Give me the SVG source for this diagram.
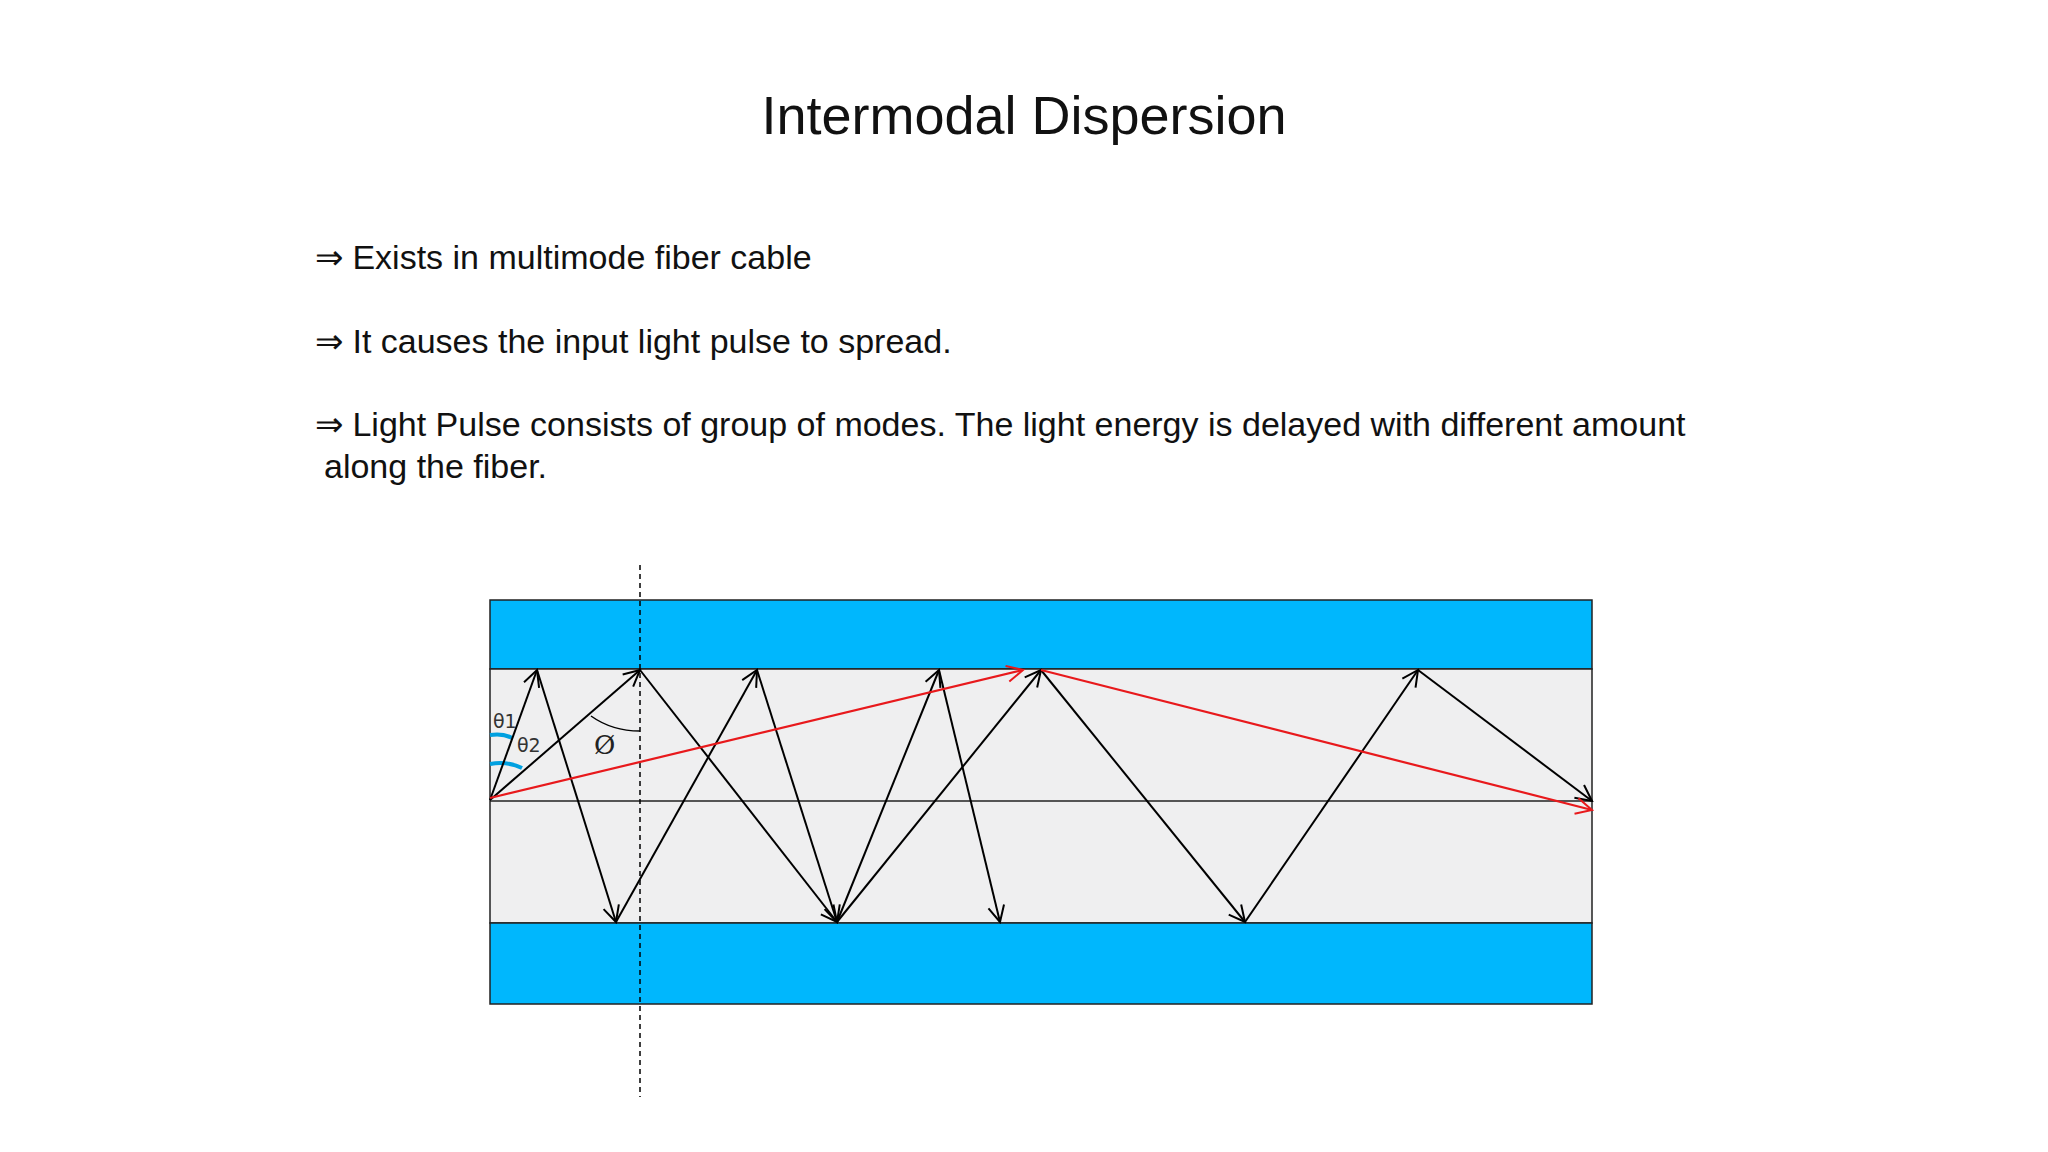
<svg xmlns="http://www.w3.org/2000/svg" width="2048" height="1152" viewBox="0 0 2048 1152">
<style>
.t{font-family:"Liberation Sans",Arial,sans-serif;fill:#111}
.b{font-size:34px}
.r{stroke:#000;stroke-width:2;fill:none;marker-end:url(#ah)}
.rr{stroke:#e8191c;stroke-width:2.2;fill:none;marker-end:url(#ahr)}
</style>
<defs>
<marker id="ah" viewBox="0 0 20 20" refX="18" refY="10" markerWidth="20" markerHeight="20" markerUnits="userSpaceOnUse" orient="auto"><path d="M2,2 L18,10 L2,18" fill="none" stroke="#000" stroke-width="2"/></marker>
<marker id="ahr" viewBox="0 0 20 20" refX="18" refY="10" markerWidth="20" markerHeight="20" markerUnits="userSpaceOnUse" orient="auto"><path d="M2,2 L18,10 L2,18" fill="none" stroke="#e8191c" stroke-width="2"/></marker>
</defs>
<rect width="2048" height="1152" fill="#fff"/>
<text class="t" x="1024" y="134" font-size="54" text-anchor="middle">Intermodal Dispersion</text>
<g id="bullets">
<text class="t b" x="315" y="269">⇒ Exists in multimode fiber cable</text>
<text class="t b" x="315" y="353">⇒ It causes the input light pulse to spread.</text>
<text class="t b" x="315" y="436">⇒ Light Pulse consists of group of modes. The light energy is delayed with different amount</text>
<text class="t b" x="324" y="478">along the fiber.</text>
</g>
<g id="fiber">
<rect x="490" y="600" width="1102" height="69" fill="#00b7fd" stroke="#222" stroke-width="1.5"/>
<rect x="490" y="669" width="1102" height="254" fill="#efeff0" stroke="#222" stroke-width="1.5"/>
<rect x="490" y="923" width="1102" height="81" fill="#00b7fd" stroke="#222" stroke-width="1.5"/>
<line x1="490" y1="801" x2="1592" y2="801" stroke="#222" stroke-width="1.5"/>
</g>
<line x1="640" y1="565" x2="640" y2="1097" stroke="#000" stroke-width="1.5" stroke-dasharray="5,4"/>
<g id="labels">
<path d="M490,735 Q503,733 512,738" stroke="#00a0e0" stroke-width="4" fill="none"/>
<path d="M490,764 Q508,761 522,768" stroke="#00a0e0" stroke-width="4" fill="none"/>
<path d="M591,716 Q612,731 640,731" stroke="#000" stroke-width="1.5" fill="none"/>
<text x="493" y="728" font-family="DejaVu Sans,sans-serif" font-size="19" fill="#333">θ1</text>
<text x="517" y="752" font-family="DejaVu Sans,sans-serif" font-size="19" fill="#333">θ2</text>
<text x="594" y="754" font-family="DejaVu Serif,serif" font-size="26" fill="#222">Ø</text>
</g>
<g id="connectors">
<path class="r" d="M490,800 L537,670"/><path class="r" d="M537,670 L616,922"/><path class="r" d="M616,922 L757,670"/><path class="r" d="M757,670 L837,922"/><path class="r" d="M837,922 L939,670"/><path class="r" d="M939,670 L1000,922"/>
<path class="r" d="M490,800 L640,670"/><path class="r" d="M640,670 L837,922"/><path class="r" d="M837,922 L1041,670"/><path class="r" d="M1041,670 L1245,922"/><path class="r" d="M1245,922 L1418,670"/><path class="r" d="M1418,670 L1592,801"/>
<path class="rr" d="M490,798 L1023,670"/><path class="rr" d="M1041,670 L1592,810"/>
</g>
</svg>
